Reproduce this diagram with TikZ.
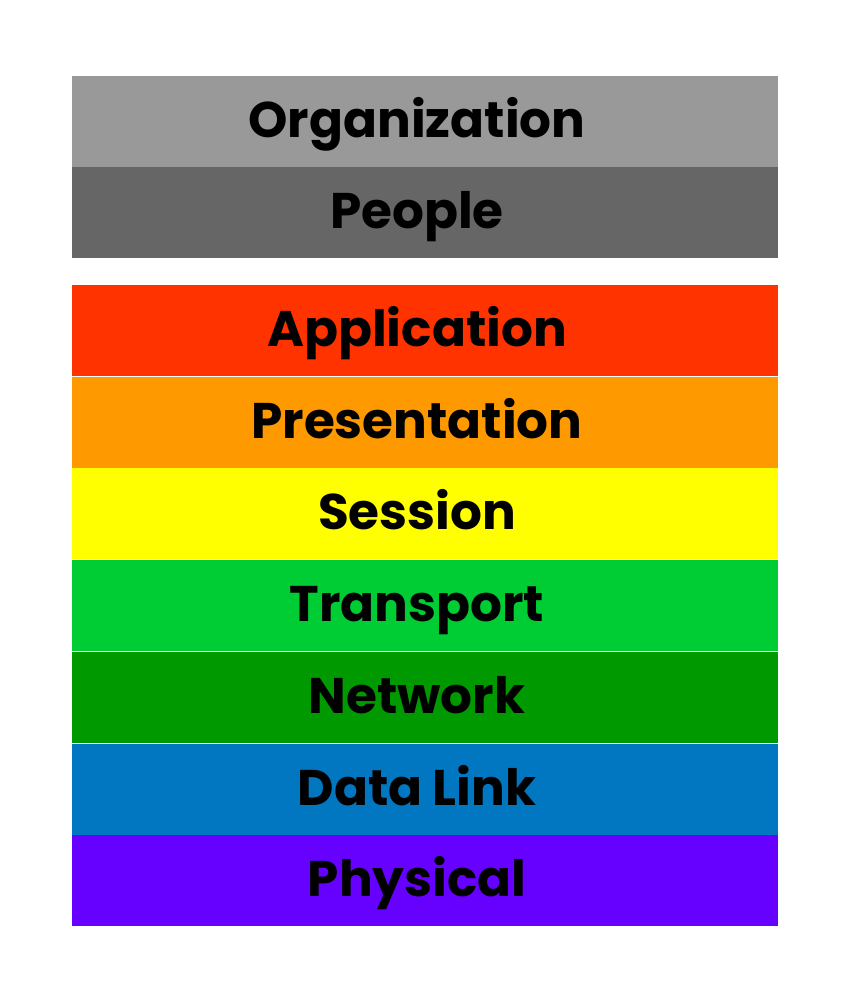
\documentclass[tikz,border=0pt]{standalone}
\usepackage{fontspec}
\setmainfont{Poppins}
\usetikzlibrary{positioning}

\definecolor{orggray}{HTML}{999999}
\definecolor{peoplegray}{HTML}{666666}
\definecolor{appred}{HTML}{FF3300}
\definecolor{presorange}{HTML}{FF9900}
\definecolor{sessyellow}{HTML}{FFFF00}
\definecolor{transgreen}{HTML}{00CC33}
\definecolor{netgreen}{HTML}{009900}
\definecolor{linkblue}{HTML}{0077C0}
\definecolor{physviolet}{HTML}{6600FF}

\tikzset{
  layer/.style={inner sep=0pt, minimum width=14.12cm, minimum height=1.82cm,
    text height=0.64cm, text depth=0pt, font=\fontsize{28.5}{32}\selectfont\bfseries,
    execute at begin node=\hspace*{-0.32cm}}
}

\begin{document}
\begin{tikzpicture}

\useasboundingbox (0,0) rectangle (17,20);

% the two top layers
\node[layer, fill=orggray] (org) at (8.5,17.575){Organization};
\node[layer, fill=peoplegray, below=0pt of org] (people){People};

% the seven OSI layers
\node[layer, fill=appred] (app) at (8.5,13.39){Application};
\node[layer, fill=presorange, below=0pt of app] (pres){Presentation};
\node[layer, fill=sessyellow, below=0pt of pres] (sess){Session};
\node[layer, fill=transgreen, below=0pt of sess] (trans){Transport};
\node[layer, fill=netgreen, below=0pt of trans] (net){Network};
\node[layer, fill=linkblue, below=0pt of net] (link){Data Link};
\node[layer, fill=physviolet, below=0pt of link] (phys){Physical};

\end{tikzpicture}
\end{document}
